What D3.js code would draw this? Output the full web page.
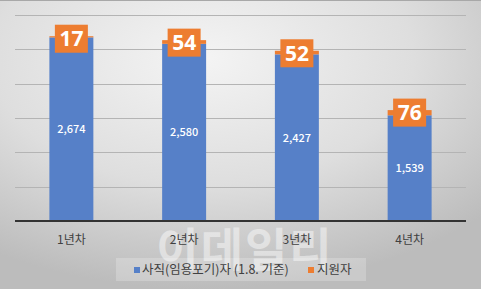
<!DOCTYPE html>
<html>
<head>
<meta charset="utf-8">
<script src="https://d3js.org/d3.v7.min.js"></script>
<style>
  body { margin: 0; background: #fff; }
  svg { display: block; font-family: 'Noto Sans CJK KR', 'Noto Sans', sans-serif; }
</style>
</head>
<body>
<div id="chart"></div>
<script>
const categories = ['1년차', '2년차', '3년차', '4년차'];
const resigned = [2674, 2580, 2427, 1539];
const applicants = [17, 54, 52, 76];
const yTicks = [0, 500, 1000, 1500, 2000, 2500, 3000];
const legendLabels = ['사직(임용포기)자 (1.8. 기준)', '지원자'];

const W = 481, H = 289;
const blue = '#5680c8', orange = '#ed7d31';

const svg = d3.select('#chart').append('svg')
  .attr('width', W).attr('height', H);

const defs = svg.append('defs');
const grad = defs.append('radialGradient').attr('id', 'bg')
  .attr('cx', '42%').attr('cy', '20%').attr('r', '80%');
grad.append('stop').attr('offset', '0%').attr('stop-color', '#f4f4f4');
grad.append('stop').attr('offset', '55%').attr('stop-color', '#dedede');
grad.append('stop').attr('offset', '100%').attr('stop-color', '#bcbcbc');

svg.append('rect').attr('width', W).attr('height', H).attr('fill', 'url(#bg)');
svg.append('line').attr('x1', 0).attr('x2', W).attr('y1', 0.5).attr('y2', 0.5)
  .attr('stroke', '#a8a8a8');

const x = d3.scaleBand().domain(categories).range([15, 466])
  .paddingInner(0.61).paddingOuter(0.305);
const y = d3.scaleLinear().domain([0, 3000]).range([221, 15]);

// gridlines
svg.append('g').selectAll('line').data(yTicks.slice(1)).join('line')
  .attr('x1', 15).attr('x2', 466)
  .attr('y1', d => Math.round(y(d)) + 0.5).attr('y2', d => Math.round(y(d)) + 0.5)
  .attr('stroke', '#b4b4b4').attr('stroke-width', 1);

// watermark
svg.append('text').attr('x', 245).attr('y', 266).attr('text-anchor', 'middle')
  .attr('font-size', 46).attr('font-weight', 'bold').attr('fill', '#fff')
  .attr('opacity', 0.45).attr('letter-spacing', 2).text('이데일리');

const data = categories.map((c, i) => ({ c, a: resigned[i], b: applicants[i] }));

// blue segments
svg.append('g').selectAll('rect').data(data).join('rect')
  .attr('x', d => x(d.c)).attr('width', x.bandwidth())
  .attr('y', d => y(d.a)).attr('height', d => y(0) - y(d.a))
  .attr('fill', blue);

// orange segments
svg.append('g').selectAll('rect').data(data).join('rect')
  .attr('x', d => x(d.c)).attr('width', x.bandwidth())
  .attr('y', d => y(d.a + d.b)).attr('height', d => y(d.a) - y(d.a + d.b))
  .attr('fill', orange);

// baseline
svg.append('line').attr('x1', 15).attr('x2', 466).attr('y1', 221).attr('y2', 221)
  .attr('stroke', '#333').attr('stroke-width', 2);

// blue value labels
svg.append('g').selectAll('text').data(data).join('text')
  .attr('x', d => x(d.c) + x.bandwidth() / 2)
  .attr('y', d => (y(d.a) + y(0)) / 2)
  .attr('dy', '0.35em').attr('text-anchor', 'middle')
  .attr('font-size', 11).attr('font-weight', 500).attr('fill', '#fff')
  .text(d => d3.format(',')(d.a));

// orange label boxes
const lab = svg.append('g').selectAll('g').data(data).join('g')
  .attr('transform', d => `translate(${x(d.c) + x.bandwidth() / 2},${y(d.a + d.b) + 2.5})`);
lab.append('rect').attr('x', -16.5).attr('y', -14).attr('width', 33).attr('height', 28)
  .attr('fill', orange);
lab.append('text').attr('text-anchor', 'middle').attr('dy', '0.36em')
  .attr('font-size', 21).attr('font-weight', 'bold').attr('fill', '#fff')
  .attr('font-family', "'Open Sans', sans-serif")
  .text(d => d.b);

// category labels
svg.append('g').selectAll('text').data(categories).join('text')
  .attr('x', d => x(d) + x.bandwidth() / 2).attr('y', 240)
  .attr('dy', '0.35em').attr('text-anchor', 'middle')
  .attr('font-size', 12).attr('fill', '#404040').text(d => d);

// legend
svg.append('rect').attr('x', 116).attr('y', 258).attr('width', 250).attr('height', 23)
  .attr('fill', '#fff').attr('opacity', 0.22);
const leg = svg.append('g');
leg.append('rect').attr('x', 134).attr('y', 267).attr('width', 6).attr('height', 6).attr('fill', blue);
leg.append('text').attr('x', 142).attr('y', 270).attr('dy', '0.35em')
  .attr('font-size', 12.5).attr('fill', '#404040').text(legendLabels[0]);
leg.append('rect').attr('x', 308).attr('y', 267).attr('width', 6).attr('height', 6).attr('fill', orange);
leg.append('text').attr('x', 317).attr('y', 270).attr('dy', '0.35em')
  .attr('font-size', 12.5).attr('fill', '#404040').text(legendLabels[1]);
</script>
</body>
</html>
